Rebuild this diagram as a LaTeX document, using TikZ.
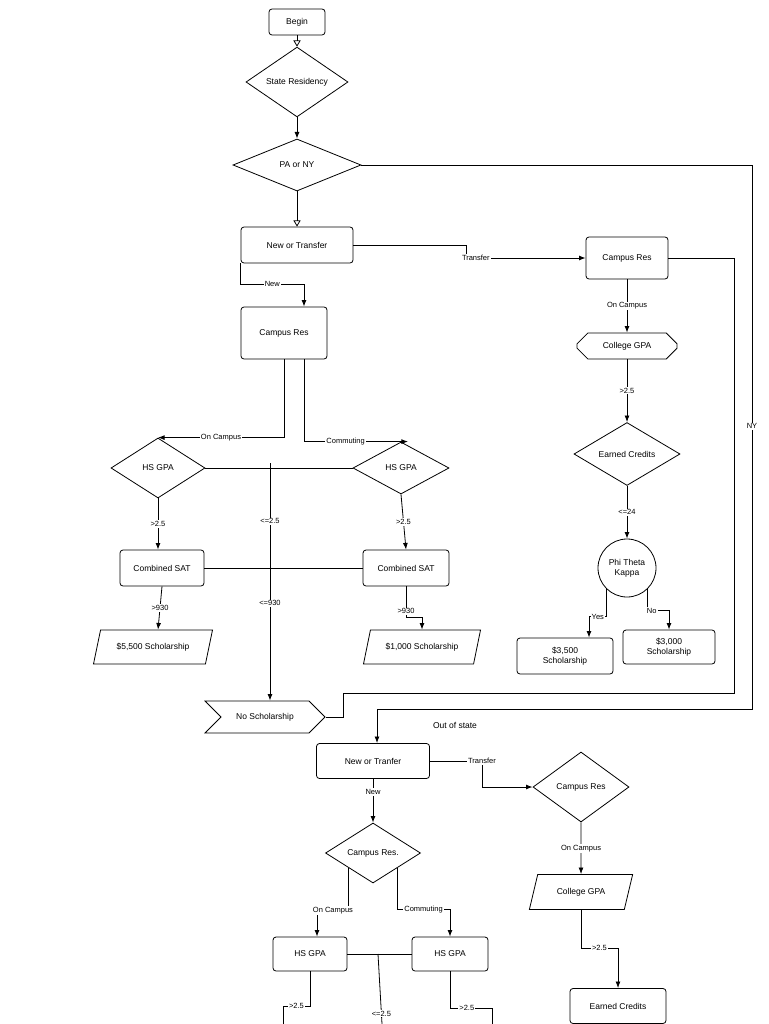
\documentclass[tikz,border=0pt]{standalone}
\usepackage{fontspec}
\setmainfont{Liberation Sans}
\usepackage{tikz}
\usetikzlibrary{shapes.geometric,shapes.misc,shapes.symbols}
\usetikzlibrary{arrows.meta}
\usetikzlibrary{positioning}
\newcommand\nodefont{\fontsize{8.5}{10}\selectfont}
\newcommand\lblfont{\fontsize{7.5}{8.5}\selectfont}
\tikzset{
% Define standard arrow tip
>={Latex[scale=1.0]},
box/.style={rectangle, rounded corners=3pt, draw=black, align=center, font=\nodefont},
decision/.style={diamond, draw=black, align=center, inner sep=0, font=\nodefont},
data/.style={trapezium, trapezium left angle=70, trapezium right angle=110, trapezium stretches=true, draw=black, align=center, font=\nodefont},
lbl/.style={fill=white, inner sep=1pt, font=\lblfont},
open/.style={-{Triangle[open,scale=1.3]}}
}
\begin{document}
\begin{tikzpicture}[x=1pt, y=-1pt, line width=0.8pt]
  \useasboundingbox (0,0) rectangle (768,1024);

  % in-state part
  \node[box, minimum width=56, minimum height=26] (begin) at (297,22) {Begin};
  \node[decision, minimum width=102, minimum height=44] (state) at (297,82) {State Residency};
  \node[decision, minimum width=128, minimum height=52] (paony) at (297,165) {PA or NY};
  \node[box, minimum width=112, minimum height=36] (newtr) at (297,245) {New or Transfer};
  \node[box, minimum width=86, minimum height=52] (campus) at (284,333) {Campus Res};
  \node[decision, minimum width=94, minimum height=60] (hsgpaL) at (158,468) {HS GPA};
  \node[decision, minimum width=96, minimum height=52] (hsgpaR) at (401,468) {HS GPA};
  \node[box, minimum width=84, minimum height=36] (satL) at (162,568) {Combined SAT};
  \node[box, minimum width=86, minimum height=36] (satR) at (406,568) {Combined SAT};
  \node[data, minimum width=120, minimum height=34] (schA) at (153,647) {\$5,500 Scholarship};
  \node[data, minimum width=118, minimum height=34] (schB) at (422,647) {\$1,000 Scholarship};
  \node[signal, signal to=east, signal from=west, draw=black, font=\nodefont,
    minimum width=120, minimum height=32] (nosch) at (265,717) {No Scholarship};

  % transfer part
  \node[box, minimum width=82, minimum height=42] (campusT) at (627,258) {Campus Res};
  \node[chamfered rectangle, chamfered rectangle xsep=8pt, draw=black, font=\nodefont,
    minimum width=100, minimum height=26] (cgpa) at (627,346) {College GPA};
  \node[decision, minimum width=106, minimum height=50] (credits) at (627,454) {Earned Credits};
  \node[circle, draw=black, align=center, inner sep=0, minimum size=58, font=\nodefont] (ptk) at (627,568) {Phi Theta\\Kappa};
  \node[box, minimum width=96, minimum height=36] (schC) at (565,656) {\$3,500\\Scholarship};
  \node[box, minimum width=92, minimum height=34] (schD) at (669,647) {\$3,000\\Scholarship};

  % out of state part
  \node[font=\nodefont] (oos) at (455,725) {Out of state};
  \node[box, minimum width=113, minimum height=35] (newtr2) at (373,761) {New or Tranfer};
  \node[decision, minimum width=96, minimum height=70] (campusT2) at (581,787) {Campus Res};
  \node[decision, minimum width=95, minimum height=60] (campus2) at (373,853) {Campus Res.};
  \node[data, minimum width=104, minimum height=35] (cgpa2) at (581,892) {College GPA};
  \node[box, minimum width=74, minimum height=34] (hsgpaL2) at (310,954) {HS GPA};
  \node[box, minimum width=76, minimum height=34] (hsgpaR2) at (450,954) {HS GPA};
  \node[box, minimum width=96, minimum height=35] (credits2) at (618,1006) {Earned Credits};

  \coordinate (nycorner) at (752,709);
  \coordinate (crcorner) at (734,693);
  \coordinate (nojoin) at (343,717);
  \coordinate (trcorner) at (482,787);
  \coordinate (endL) at (283,1024);
  \coordinate (endR) at (492,1024);
  \coordinate (endM) at (382,1024);

  \draw[open] (begin) -- (state);
  \draw[->] (state) -- (paony);
  \draw[open] (paony) -- (newtr);
  \draw[->] (paony.east) -| node[lbl, pos=0.74]{NY} (nycorner) -| ([xshift=4pt]newtr2.north);
  \draw (campusT.east) -| (crcorner) -| (nojoin) -- (nosch.east);

  \draw[->] (newtr.east) -| ([xshift=-119pt]campusT.west) node[lbl, anchor=west, xshift=-6pt]{Transfer} -- (campusT.west);
  \draw[->] (newtr.south west) -- ([yshift=-21pt]newtr.south west) -| node[lbl, pos=0.25]{New} ([xshift=20pt]campus.north);
  \draw[->] (campus.south) |- node[lbl, pos=0.75]{On Campus} (hsgpaL.north);
  \draw[->] ([xshift=20pt]campus.south) |- node[lbl, pos=0.7]{Commuting} ([xshift=7pt]hsgpaR.north);

  \draw (hsgpaL.east) -- (hsgpaR.west);
  \draw[->] (270,463) -- node[lbl, pos=0.245]{<=2.5} node[lbl, pos=0.59]{<=930} (nosch.north -| 270,0);
  \draw[->] (hsgpaL.south) -- node[lbl]{>2.5} ([xshift=-4pt]satL.north);
  \draw[->] (hsgpaR.south) -- node[lbl]{>2.5} (satR.north);
  \draw (satL.east) -- (satR.west);
  \draw[->] (satL.south) -- node[lbl]{>930} ([xshift=5pt]schA.north);
  \draw[->] (satR.south) |- node[lbl, pos=0.4]{>930} ([yshift=12pt]schB.north) -- (schB.north);

  \draw[->] (campusT.south) -- node[lbl]{On Campus} (cgpa.north);
  \draw[->] (cgpa.south) -- node[lbl]{>2.5} (credits.north);
  \draw[->] (credits.south) -- node[lbl]{<=24} (ptk.north);
  \draw[->] (ptk.226) |- node[lbl, pos=0.75]{Yes} ([xshift=24pt, yshift=21pt]schC.north) -- ([xshift=24pt]schC.north);
  \draw[->] (ptk.314) |- node[lbl, pos=0.6]{No} ([yshift=19pt]schD.north) -- (schD.north);

  \draw[->] (newtr2.east) -| node[lbl, pos=0.5]{Transfer} (trcorner) -- (campusT2.west);
  \draw[->] (newtr2.south) -- node[lbl, pos=0.3]{New} (campus2.north);
  \draw[->] (campus2.212) |- node[lbl, pos=0.75]{On Campus} ([xshift=7pt, yshift=26pt]hsgpaL2.north) -- ([xshift=7pt]hsgpaL2.north);
  \draw[->] (campus2.328) |- node[lbl, pos=0.75]{Commuting} ([yshift=27pt]hsgpaR2.north) -- (hsgpaR2.north);
  \draw (hsgpaL2.east) -- (hsgpaR2.west);
  \draw (378,954) -- node[lbl, pos=0.85]{<=2.5} (endM);
  \draw (hsgpaL2.south) |- node[lbl, pos=0.75]{>2.5} ([yshift=18pt]endL) -- (endL);
  \draw (hsgpaR2.south) |- node[lbl, pos=0.7]{>2.5} ([yshift=16pt]endR) -- (endR);
  \draw[->] (campusT2.south) -- node[lbl]{On Campus} (cgpa2.north);
  \draw[->] (cgpa2.south) |- node[lbl, pos=0.75]{>2.5} ([yshift=40pt]credits2.north) -- (credits2.north);
\end{tikzpicture}
\end{document}
